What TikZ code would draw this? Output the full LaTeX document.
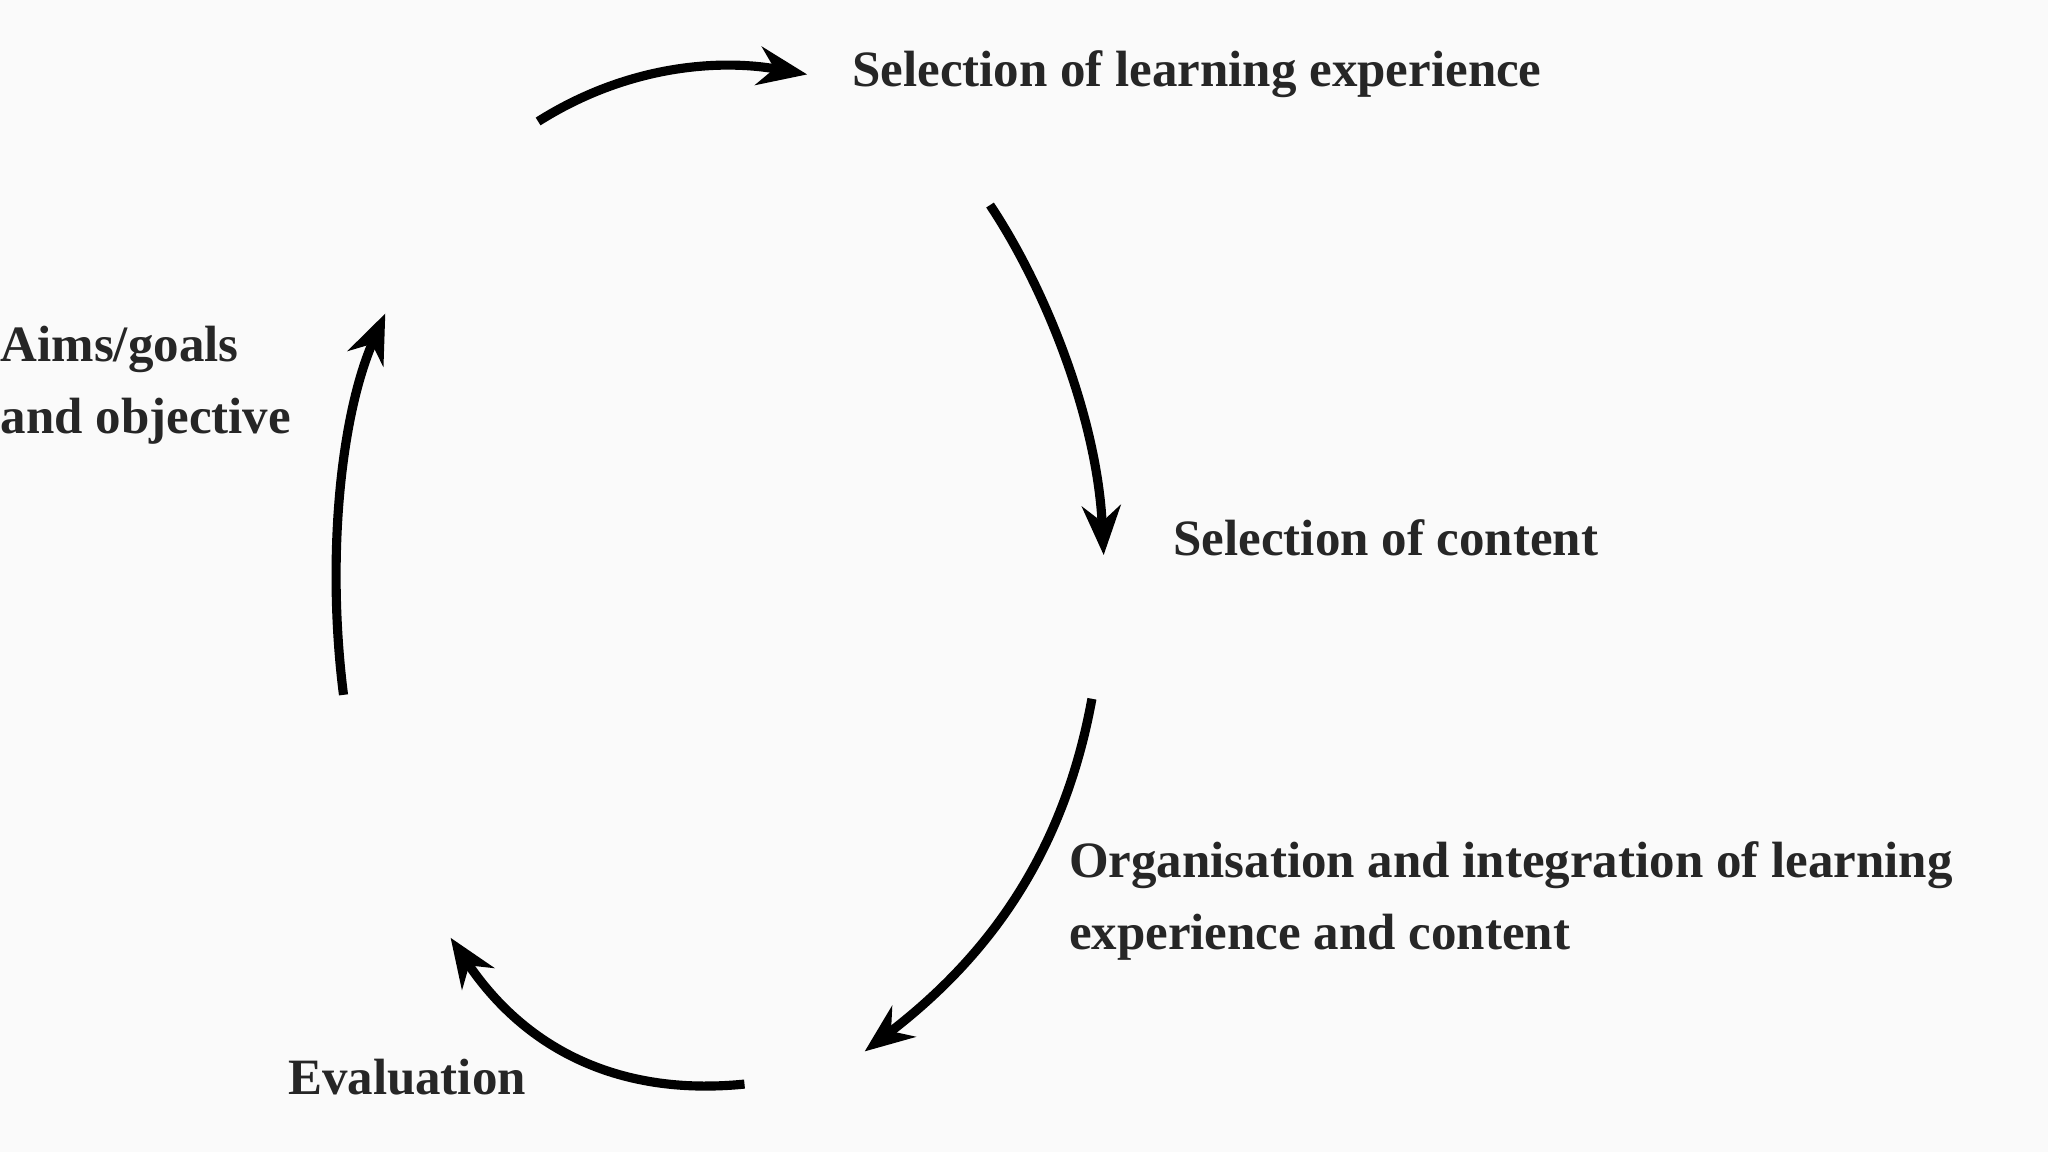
\documentclass[tikz,border=0pt]{standalone}
\usepackage{fontspec}
\setmainfont{Liberation Serif}
\usetikzlibrary{arrows.meta}
\begin{document}
\begin{tikzpicture}[x=0.01306cm,y=-0.01306cm,
  lbl/.style={font=\bfseries\fontsize{14.5}{20.5}\selectfont,anchor=west,align=left,inner sep=0pt,text=black!85},
  cyc/.style={line width=2.6pt,-{Stealth[length=14pt,width=11pt]}}]
\fill[black!2] (0,0) rectangle (1568,882);
\useasboundingbox (0,0) rectangle (1568,882);
\node[lbl] (sle) at (652,57) {Selection of learning experience};
\node[lbl] (sc) at (898,412) {Selection of content};
\node[lbl] (org) at (818,690) {Organisation and integration of learning\\experience and content};
\node[lbl] (ev) at (220,825) {Evaluation};
\node[lbl] (aim) at (0,295) {Aims/goals\\and objective};
\coordinate (a1) at (412,93); \coordinate (b1) at (618,57);
\coordinate (a2) at (758,157); \coordinate (b2) at (845,425);
\coordinate (a3) at (836,535); \coordinate (b3) at (662,805);
\coordinate (a4) at (570,830); \coordinate (b4) at (345,718);
\coordinate (a5) at (263,532); \coordinate (b5) at (295,240);
\draw[cyc] (a1) .. controls (480,50) and (550,45) .. (b1);
\draw[cyc] (a2) .. controls (800,220) and (840,320) .. (b2);
\draw[cyc] (a3) .. controls (815,650) and (760,730) .. (b3);
\draw[cyc] (a4) .. controls (470,840) and (400,800) .. (b4);
\draw[cyc] (a5) .. controls (250,430) and (260,320) .. (b5);
\end{tikzpicture}
\end{document}
